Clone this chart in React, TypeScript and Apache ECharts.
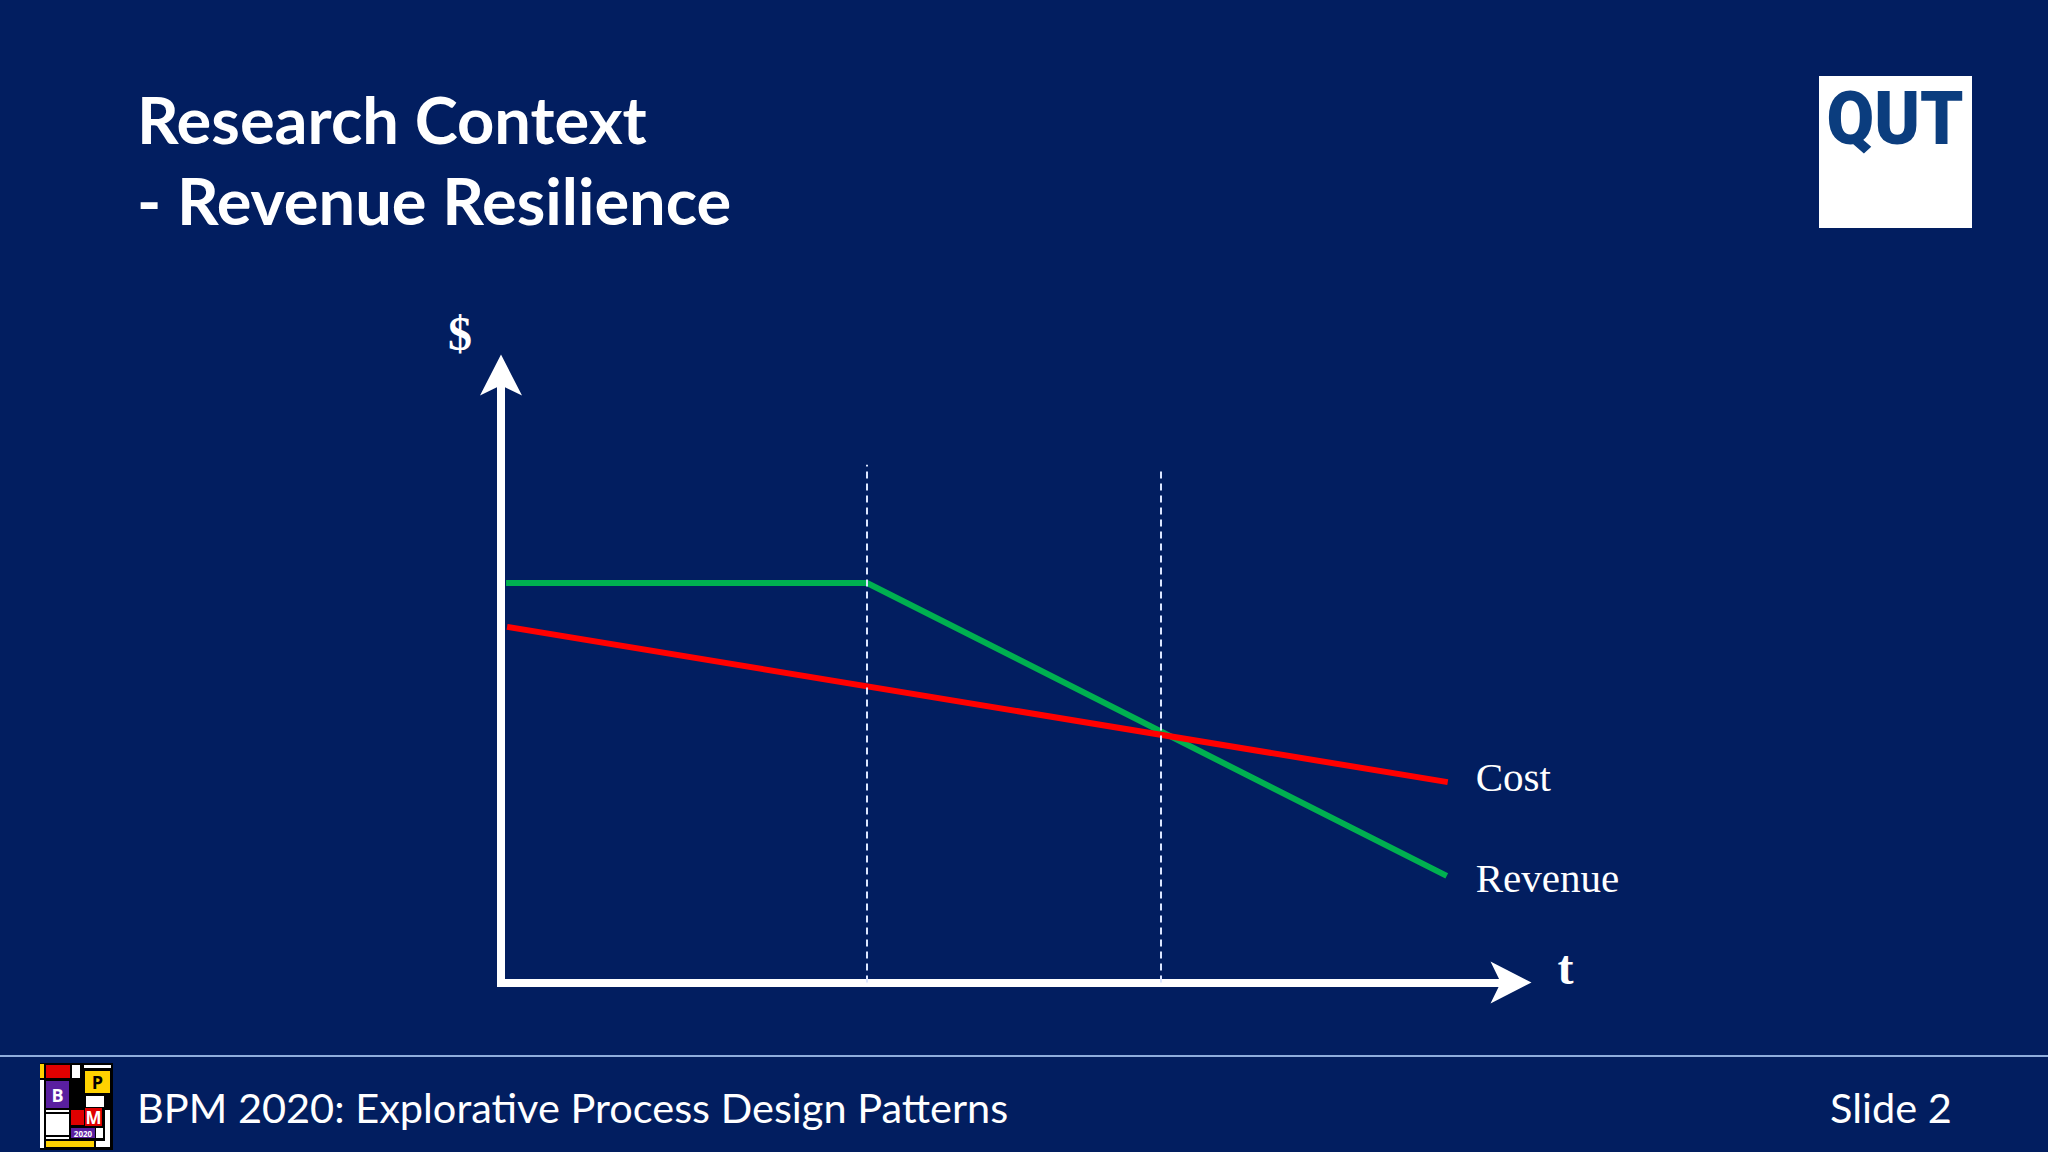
import React, { useEffect, useRef } from 'react';
import * as echarts from 'echarts';

// ---- data ----
const revenueT = [0.5, 36.2, 93.5];
const revenueValues = [65.6, 65.6, 17.5];
const costT = [0.6, 93.6];
const costValues = [58.4, 32.9];
const phaseT = [36.2, 65.25];
const phaseTop = [85.0, 84.0];
const seriesNames = ['Cost', 'Revenue'];
const xAxisName = 't';
const yAxisName = '$';
const titleLines = ['Research Context', '- Revenue Resilience'];
const footerText = 'BPM 2020: Explorative Process Design Patterns';
const slideText = 'Slide 2';

const BG = '#021E60';
const WHITE = '#FFFFFF';

function bpmLogo(): any[] {
  const r = (x0: number, y0: number, x1: number, y1: number, fill: string) => ({
    type: 'rect',
    shape: { x: x0, y: y0, width: x1 - x0, height: y1 - y0 },
    style: { fill },
    silent: true,
  });
  const t = (x: number, y: number, text: string, size: number, fill: string) => ({
    type: 'text',
    x,
    y,
    style: {
      text,
      fill,
      font: `bold ${size}px "Open Sans", sans-serif`,
      align: 'center',
      verticalAlign: 'middle',
    },
    silent: true,
  });
  return [
    r(40, 1063, 113, 1150, '#000000'),
    r(40, 1064, 44, 1078, '#FFD200'),
    r(46, 1065, 70, 1078, '#E00000'),
    r(72, 1065, 80, 1078, '#FFFFFF'),
    r(84, 1065, 111, 1068, '#FFFFFF'),
    r(40, 1080, 44, 1148, '#FFFFFF'),
    r(46, 1081, 69, 1108, '#5A1FA0'),
    r(85, 1071, 110, 1093, '#FFD200'),
    r(86, 1096, 104, 1107, '#FFFFFF'),
    r(46, 1110, 69, 1112, '#FFFFFF'),
    r(46, 1114, 69, 1135, '#FFFFFF'),
    r(71, 1110, 84, 1125, '#E00000'),
    r(85, 1108, 102, 1126, '#E00000'),
    r(105, 1110, 110, 1145, '#FFFFFF'),
    r(71, 1128, 95, 1138, '#5A1FA0'),
    r(96, 1128, 103, 1138, '#FFFFFF'),
    r(46, 1137, 69, 1139, '#FFFFFF'),
    r(46, 1141, 94, 1147, '#FFD200'),
    r(96, 1141, 110, 1147, '#FFFFFF'),
    t(57.5, 1095, 'B', 18, '#FFFFFF'),
    t(97.5, 1082, 'P', 18, '#000000'),
    t(93.5, 1117, 'M', 17, '#FFFFFF'),
    t(83, 1133.5, '2020', 8, '#FFFFFF'),
  ];
}

export default function App() {
  const ref = useRef<HTMLDivElement>(null);

  useEffect(() => {
    if (!ref.current) return;
    const chart = echarts.init(ref.current, null, { renderer: 'svg' });

    const axisLine = {
      show: true,
      onZero: false,
      symbol: ['none', 'arrow'],
      symbolSize: [31.5, 41],
      symbolOffset: [0, 19],
      lineStyle: { color: WHITE, width: 8, cap: 'square' },
    };

    const option: any = {
      animation: false,
      backgroundColor: BG,
      grid: {
        left: 501,
        right: 535.5,
        top: 373.5,
        bottom: 169.5,
        containLabel: false,
        outerBoundsMode: 'none',
      },
      xAxis: {
        type: 'value',
        min: 0,
        max: 100,
        axisLine,
        axisTick: { show: false },
        axisLabel: { show: false },
        splitLine: { show: false },
      },
      yAxis: {
        type: 'value',
        min: 0,
        max: 100,
        axisLine,
        axisTick: { show: false },
        axisLabel: { show: false },
        splitLine: { show: false },
      },
      series: [
        {
          type: 'line',
          name: seriesNames[1],
          data: revenueT.map((t, i) => [t, revenueValues[i]]),
          symbol: 'none',
          showSymbol: false,
          silent: true,
          z: 3,
          lineStyle: { color: '#00B050', width: 6, cap: 'butt', join: 'miter' },
          itemStyle: { color: '#00B050' },
          endLabel: {
            show: true,
            formatter: seriesNames[1],
            color: WHITE,
            fontFamily: '"Liberation Serif", serif',
            fontSize: 41,
            distance: 29,
            offset: [0, 2],
          },
        },
        {
          type: 'line',
          name: seriesNames[0],
          data: costT.map((t, i) => [t, costValues[i]]),
          symbol: 'none',
          showSymbol: false,
          silent: true,
          z: 4,
          lineStyle: { color: '#FF0000', width: 6, cap: 'butt' },
          itemStyle: { color: '#FF0000' },
          endLabel: {
            show: true,
            formatter: seriesNames[0],
            color: WHITE,
            fontFamily: '"Liberation Serif", serif',
            fontSize: 41,
            distance: 28,
            offset: [0, -5],
          },
          markLine: {
            silent: true,
            symbol: ['none', 'none'],
            label: { show: false },
            emphasis: { disabled: true },
            lineStyle: { type: [7, 5], color: '#DCE6FF', width: 2 },
            data: phaseT.map((t, i) => [
              { coord: [t, 0] },
              { coord: [t, phaseTop[i]] },
            ]),
          },
        },
      ],
      graphic: [
        {
          type: 'rect',
          shape: { x: 0, y: 1055, width: 2048, height: 2 },
          style: { fill: '#8FAEDD' },
          silent: true,
        },
        {
          type: 'text',
          x: 137,
          y: 118.8,
          style: {
            text: titleLines[0],
            fill: WHITE,
            font: 'bold 65px Lato, "Open Sans", sans-serif',
            align: 'left',
            verticalAlign: 'middle',
          },
          silent: true,
        },
        {
          type: 'text',
          x: 137,
          y: 199.8,
          style: {
            text: titleLines[1],
            fill: WHITE,
            font: 'bold 65px Lato, "Open Sans", sans-serif',
            align: 'left',
            verticalAlign: 'middle',
          },
          silent: true,
        },
        {
          type: 'rect',
          shape: { x: 1819, y: 76, width: 153, height: 152 },
          style: { fill: '#FFFFFF' },
          silent: true,
        },
        {
          type: 'text',
          x: 1895,
          y: 119,
          scaleX: 0.92,
          style: {
            text: 'QUT',
            fill: '#0B3D7E',
            font: '900 75px Roboto, Lato, sans-serif',
            align: 'center',
            verticalAlign: 'middle',
          },
          silent: true,
        },
        {
          type: 'text',
          x: 460,
          y: 333,
          style: {
            text: yAxisName,
            fill: WHITE,
            font: 'bold 48px "Liberation Serif", serif',
            align: 'center',
            verticalAlign: 'middle',
          },
          silent: true,
        },
        {
          type: 'text',
          x: 1565.5,
          y: 967,
          style: {
            text: xAxisName,
            fill: WHITE,
            font: 'bold 48px "Liberation Serif", serif',
            align: 'center',
            verticalAlign: 'middle',
          },
          silent: true,
        },
        {
          type: 'text',
          x: 137,
          y: 1107.4,
          style: {
            text: footerText,
            fill: WHITE,
            font: '41.5px Lato, "Open Sans", sans-serif',
            align: 'left',
            verticalAlign: 'middle',
          },
          silent: true,
        },
        {
          type: 'text',
          x: 1830,
          y: 1107.4,
          style: {
            text: slideText,
            fill: WHITE,
            font: '41.5px Lato, "Open Sans", sans-serif',
            align: 'left',
            verticalAlign: 'middle',
          },
          silent: true,
        },
        ...bpmLogo(),
      ],
    };

    chart.setOption(option);
    return () => chart.dispose();
  }, []);

  return (
    <div
      ref={ref}
      style={{ position: 'fixed', left: 0, top: 0, width: 2048, height: 1152, background: BG }}
    />
  );
}
